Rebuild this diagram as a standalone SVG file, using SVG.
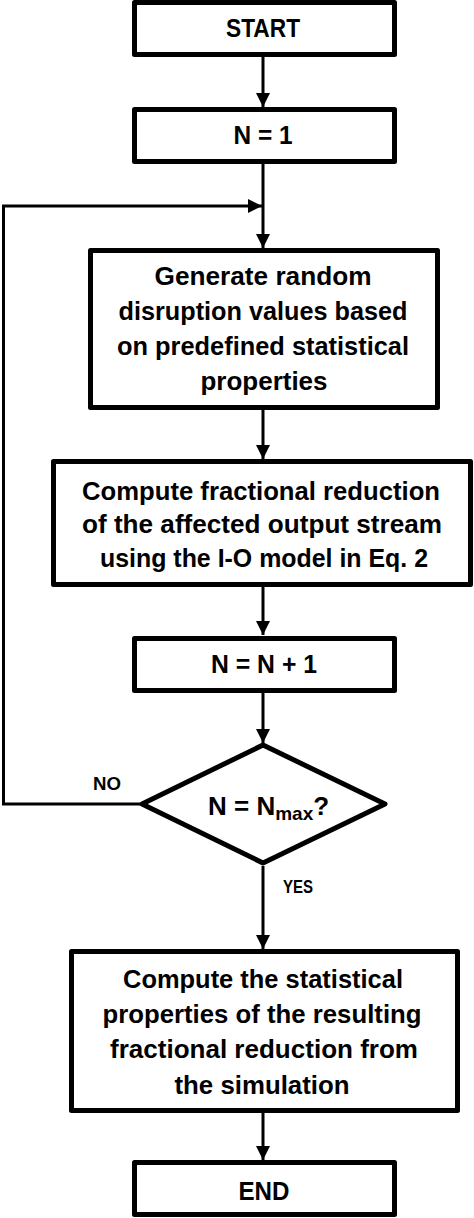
<svg xmlns="http://www.w3.org/2000/svg" width="474" height="1218" viewBox="0 0 474 1218">
<style>
.box{fill:#fff;stroke:#000;stroke-width:5;stroke-linejoin:round}
.t{font-family:"Liberation Sans",Arial,sans-serif;font-weight:bold;font-size:26px;fill:#000;text-anchor:middle}
.s{font-family:"Liberation Sans",Arial,sans-serif;font-weight:bold;font-size:18px;fill:#000;text-anchor:middle}
.c{fill:none;stroke:#000;stroke-width:3}
</style>
<defs>
<marker id="ah" markerUnits="userSpaceOnUse" markerWidth="16" markerHeight="16" refX="14" refY="7" orient="auto">
<path d="M0,0 L14,7 L0,14 Z" fill="#000"/>
</marker>
</defs>
<g id="connectors">
<line class="c" x1="263" y1="57" x2="263" y2="107" marker-end="url(#ah)"/>
<line class="c" x1="263" y1="163" x2="263" y2="248" marker-end="url(#ah)"/>
<path class="c" d="M140,804 H3.5 V206 H262" marker-end="url(#ah)"/>
<line class="c" x1="263" y1="410" x2="263" y2="459" marker-end="url(#ah)"/>
<line class="c" x1="263" y1="587" x2="263" y2="635" marker-end="url(#ah)"/>
<line class="c" x1="263" y1="693" x2="263" y2="743" marker-end="url(#ah)"/>
<line class="c" x1="263" y1="866" x2="263" y2="949" marker-end="url(#ah)"/>
<line class="c" x1="263" y1="1113" x2="263" y2="1160" marker-end="url(#ah)"/>
<text class="s" x="107" y="790" textLength="28" lengthAdjust="spacingAndGlyphs">NO</text>
<text class="s" x="298" y="893" textLength="30" lengthAdjust="spacingAndGlyphs">YES</text>
</g>
<g id="start">
<rect class="box" x="134.5" y="2.5" width="260" height="52"/>
<text class="t" x="263" y="37" textLength="74" lengthAdjust="spacingAndGlyphs">START</text>
</g>
<g id="n1">
<rect class="box" x="134.5" y="109.5" width="260" height="52"/>
<text class="t" x="263" y="144" textLength="59" lengthAdjust="spacingAndGlyphs">N = 1</text>
</g>
<g id="generate">
<rect class="box" x="90.5" y="250.5" width="347" height="157"/>
<text class="t" x="263" y="285" textLength="217" lengthAdjust="spacingAndGlyphs">Generate random</text>
<text class="t" x="263" y="320" textLength="289" lengthAdjust="spacingAndGlyphs">disruption values based</text>
<text class="t" x="263" y="355" textLength="292" lengthAdjust="spacingAndGlyphs">on predefined statistical</text>
<text class="t" x="264" y="390" textLength="127" lengthAdjust="spacingAndGlyphs">properties</text>
</g>
<g id="compute">
<rect class="box" x="53.5" y="461.5" width="417" height="123"/>
<text class="t" x="261" y="500" textLength="358" lengthAdjust="spacingAndGlyphs">Compute fractional reduction</text>
<text class="t" x="262" y="533" textLength="360" lengthAdjust="spacingAndGlyphs">of the affected output stream</text>
<text class="t" x="264" y="567" textLength="328" lengthAdjust="spacingAndGlyphs">using the I-O model in Eq. 2</text>
</g>
<g id="increment">
<rect class="box" x="134.5" y="638.5" width="260" height="52"/>
<text class="t" x="264" y="673" textLength="106" lengthAdjust="spacingAndGlyphs">N = N + 1</text>
</g>
<g id="decision">
<polygon class="box" points="263,745 385,804 263,863 142,804"/>
<text class="t" x="208" y="815" style="text-anchor:start">N = N<tspan font-size="19" dy="5">max</tspan><tspan dy="-5">?</tspan></text>
</g>
<g id="final">
<rect class="box" x="71.5" y="951.5" width="386" height="159"/>
<text class="t" x="263" y="988" textLength="280" lengthAdjust="spacingAndGlyphs">Compute the statistical</text>
<text class="t" x="262" y="1023" textLength="319" lengthAdjust="spacingAndGlyphs">properties of the resulting</text>
<text class="t" x="264" y="1058" textLength="308" lengthAdjust="spacingAndGlyphs">fractional reduction from</text>
<text class="t" x="262" y="1094" textLength="175" lengthAdjust="spacingAndGlyphs">the simulation</text>
</g>
<g id="end">
<rect class="box" x="134.5" y="1162.5" width="260" height="52"/>
<text class="t" x="264" y="1200" textLength="51" lengthAdjust="spacingAndGlyphs">END</text>
</g>
</svg>
